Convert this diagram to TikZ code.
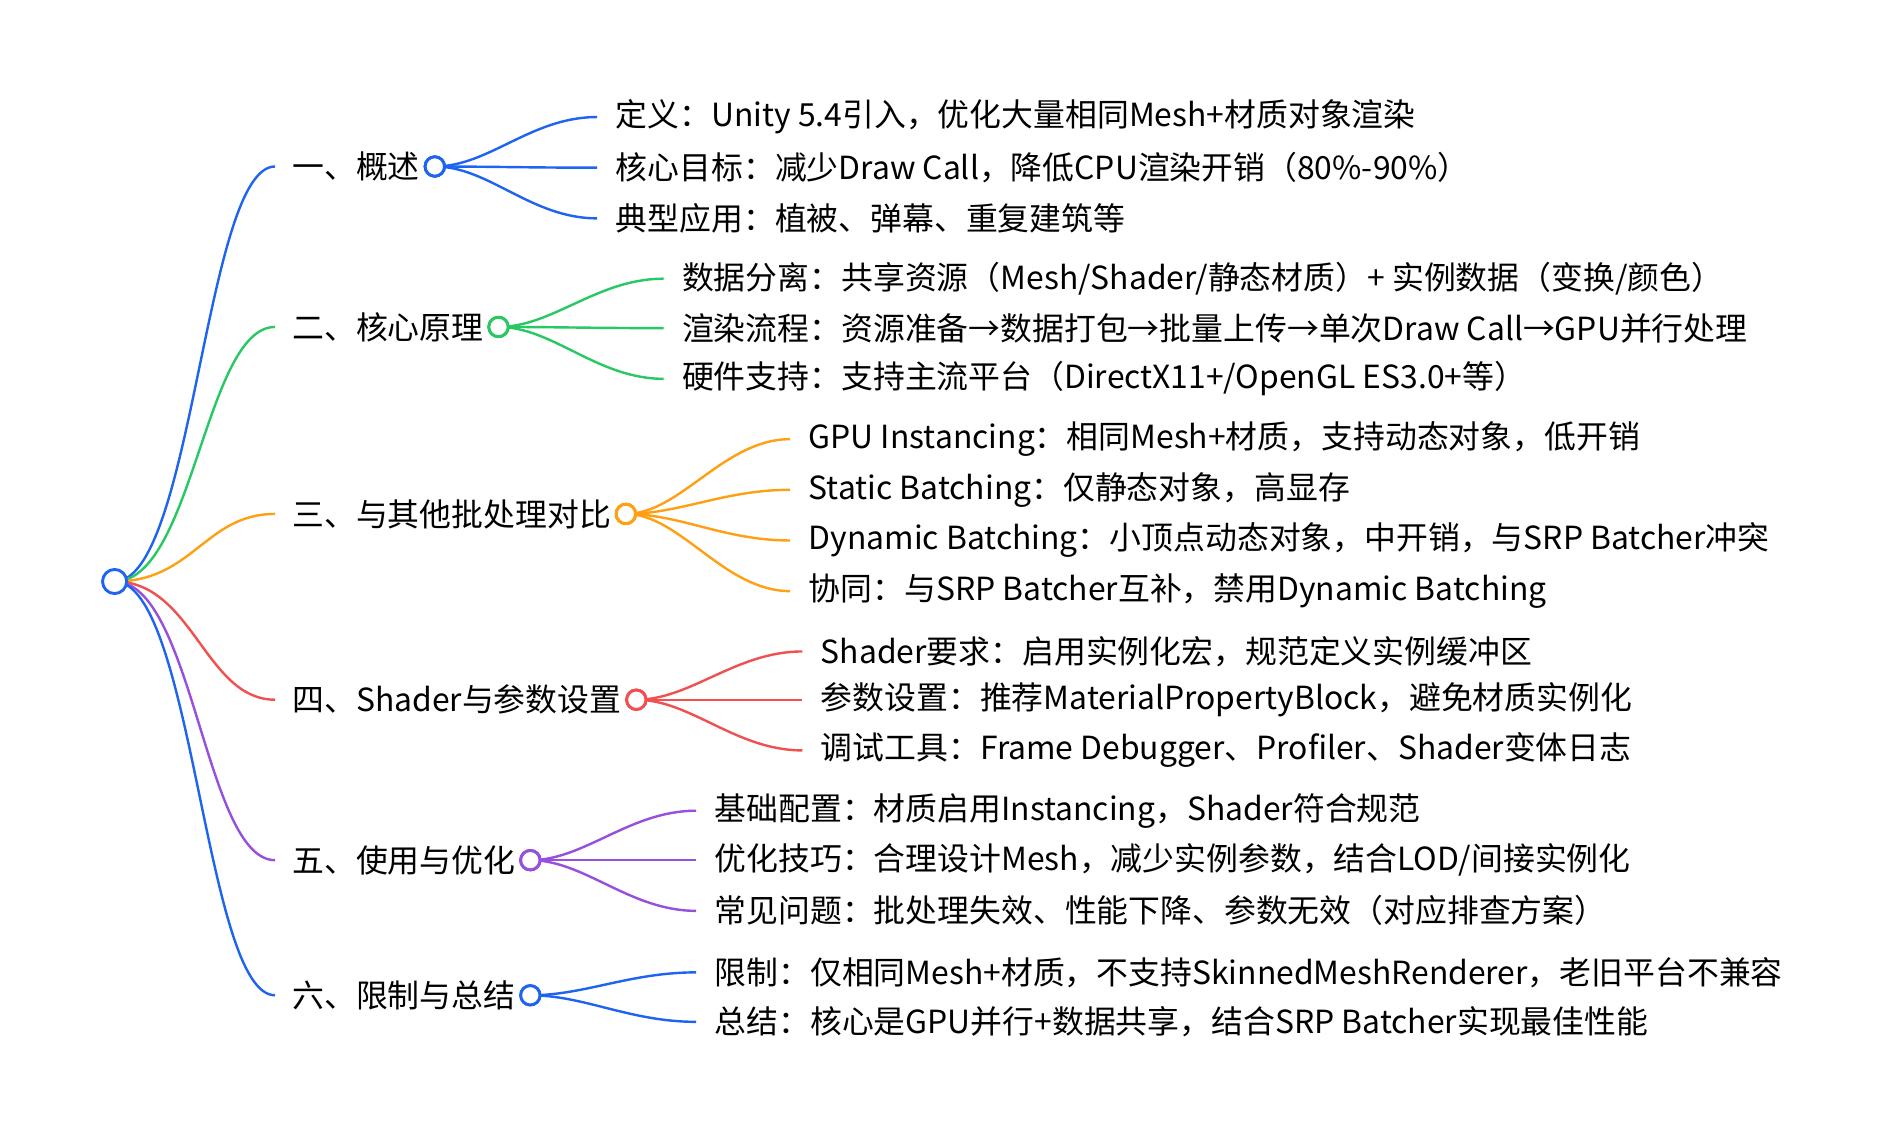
\documentclass[tikz,border=0pt]{standalone}
\usepackage{fontspec}
\setmainfont{Noto Sans CJK SC}
\usetikzlibrary{positioning}
\definecolor{mapblue}{RGB}{30,100,240}
\definecolor{mapgreen}{RGB}{40,200,100}
\definecolor{maporange}{RGB}{255,160,20}
\definecolor{mapred}{RGB}{240,80,80}
\definecolor{mappurple}{RGB}{150,80,220}
\tikzset{
  hub/.style={circle, draw, line width=1.2pt, fill=white, inner sep=0pt, minimum size=8pt},
  topic/.style={anchor=west, inner sep=0pt, font=\fontsize{13.2}{15}\selectfont},
  leaf/.style={anchor=west, inner xsep=7.5pt, inner ysep=0pt, font=\fontsize{13.2}{15}\selectfont},
  twig/.style={line width=1pt}
}
\begin{document}
\begin{tikzpicture}[x=0.5pt, y=-0.5pt]
        \useasboundingbox (0,0) rectangle (1560,938);
        
        % Main topics
        \foreach \name/\y/\col/\txt in {
          t1/138/mapblue/{一、概述},
          t2/271/mapgreen/{二、核心原理},
          t3/426/maporange/{三、与其他批处理对比},
          t4/580/mapred/{四、Shader与参数设置},
          t5/713/mappurple/{五、使用与优化},
          t6/825/mapblue/{六、限制与总结}}{
          \node[topic] (\name) at (242,\y) {\txt};
          \coordinate (\name in) at (228,\y);
          \coordinate[right=6pt of \name] (\name c);
          \draw[twig, \col] (95,482) .. controls (160,482) and (170,\y) .. (\name in);
        }
        \node[hub, minimum size=10pt, draw=mapblue] (root) at (95,482) {};
        
        % Leaves
        \foreach \top/\x/\y/\col/\txt in {
          t1/495/97/mapblue/{定义：Unity 5.4引入，优化大量相同Mesh+材质对象渲染},
          t1/495/139/mapblue/{核心目标：减少Draw Call，降低CPU渲染开销（80\%-90\%）},
          t1/495/181/mapblue/{典型应用：植被、弹幕、重复建筑等},
          t2/550/231/mapgreen/{数据分离：共享资源（Mesh/Shader/静态材质）+ 实例数据（变换/颜色）},
          t2/550/272/mapgreen/{渲染流程：资源准备→数据打包→批量上传→单次Draw Call→GPU并行处理},
          t2/550/314/mapgreen/{硬件支持：支持主流平台（DirectX11+/OpenGL ES3.0+等）},
          t3/655/364/maporange/{GPU Instancing：相同Mesh+材质，支持动态对象，低开销},
          t3/655/406/maporange/{Static Batching：仅静态对象，高显存},
          t3/655/448/maporange/{Dynamic Batching：小顶点动态对象，中开销，与SRP Batcher冲突},
          t3/655/490/maporange/{协同：与SRP Batcher互补，禁用Dynamic Batching},
          t4/665/540/mapred/{Shader要求：启用实例化宏，规范定义实例缓冲区},
          t4/665/580/mapred/{参数设置：推荐MaterialPropertyBlock，避免材质实例化},
          t4/665/622/mapred/{调试工具：Frame Debugger、Profiler、Shader变体日志},
          t5/577/672/mappurple/{基础配置：材质启用Instancing，Shader符合规范},
          t5/577/713/mappurple/{优化技巧：合理设计Mesh，减少实例参数，结合LOD/间接实例化},
          t5/577/755/mappurple/{常见问题：批处理失效、性能下降、参数无效（对应排查方案）},
          t6/577/806/mapblue/{限制：仅相同Mesh+材质，不支持SkinnedMeshRenderer，老旧平台不兼容},
          t6/577/847/mapblue/{总结：核心是GPU并行+数据共享，结合SRP Batcher实现最佳性能}}{
          \node[leaf] (leaf) at (\x,\y) {\txt};
          \draw[twig, \col] (\top c) .. controls +(45,0) and +(-55,0) .. (leaf.west);
          \node[hub, draw=\col] at (\top c) {};
        }
      \end{tikzpicture}
\end{document}
